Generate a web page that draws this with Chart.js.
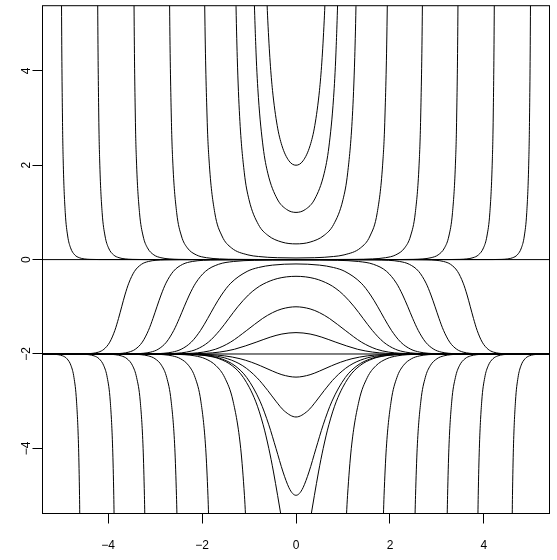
<!DOCTYPE html>
<html><head><meta charset="utf-8">
<script src="https://cdn.jsdelivr.net/npm/chart.js@4"></script>
<style>html,body{margin:0;padding:0;background:#fff;}canvas{display:block;}</style>
</head><body>
<canvas id="c" width="557" height="560" style="width:557px;height:560px"></canvas>
<script>
// axis limits and ticks
const xLimits = [-5.395, 5.395];
const yLimits = [-5.38, 5.38];
const xTicks = [-4, -2, 0, 2, 4];
const yTicks = [-4, -2, 0, 2, 4];
const equilibria = [0, -2];

// solution curves, right half (x >= 0); the figure is symmetric about x = 0
const upper1 = [[0,2],[0.15,2.093],[0.3,2.416],[0.4,2.84],[0.5,3.587],[0.55,4.185],[0.6,5.059],[0.62,5.529],[0.65,6.435]];
const upper2 = [[0,1],[0.2,1.063],[0.4,1.285],[0.6,1.83],[0.7,2.387],[0.8,3.437],[0.85,4.38],[0.9,5.978],[0.93,7.596]];
const upper3 = [[0,0.333],[0.3,0.371],[0.6,0.515],[0.8,0.743],[1.0,1.27],[1.1,1.839],[1.2,3.037],[1.25,4.28],[1.28,5.555],[1.3,6.858]];
const upper4 = [[0,0.034],[0.398,0.04],[0.6,0.049],[0.8,0.066],[1.023,0.1],[1.376,0.25],[1.575,0.5],[1.73,1],[1.843,2],[1.892,3],[1.943,5.4],[1.967,8]];
const upper5 = [[0,0.001],[1.248,0.005],[1.628,0.015],[1.903,0.04],[2.123,0.1],[2.314,0.25],[2.438,0.5],[2.54,1],[2.619,2],[2.653,3],[2.69,5.4],[2.707,8]];
const upper6 = [[0,0],[2.144,0.001],[2.491,0.005],[2.701,0.015],[2.875,0.04],[3.025,0.1],[3.162,0.25],[3.254,0.5],[3.331,1],[3.392,2],[3.419,3],[3.447,5.4],[3.46,8]];
const upper7 = [[0,0],[3.244,0.001],[3.483,0.005],[3.636,0.015],[3.767,0.04],[3.883,0.1],[3.991,0.25],[4.064,0.5],[4.126,1],[4.175,2],[4.197,3],[4.22,5.4],[4.231,8]];
const upper8 = [[0,0],[4.197,0.001],[4.384,0.005],[4.507,0.015],[4.613,0.04],[4.709,0.1],[4.798,0.25],[4.859,0.5],[4.911,1],[4.952,2],[4.97,3],[4.99,5.4],[4.999,8]];

const bell1 = [[0,0],[2.483,-0.001],[2.788,-0.005],[2.98,-0.015],[3.142,-0.04],[3.289,-0.1],[3.438,-0.25],[3.559,-0.5],[3.641,-0.75],[3.71,-1],[3.778,-1.25],[3.855,-1.5],[3.964,-1.75],[4.088,-1.9],[4.202,-1.96],[4.319,-1.985],[4.445,-1.995],[4.622,-1.999],[5.4,-2]];
const bell2 = [[0,-0.0003],[1.078,-0.001],[1.665,-0.005],[1.969,-0.015],[2.207,-0.04],[2.412,-0.1],[2.611,-0.25],[2.768,-0.5],[2.872,-0.75],[2.96,-1],[3.045,-1.25],[3.14,-1.5],[3.272,-1.75],[3.421,-1.9],[3.557,-1.96],[3.694,-1.985],[3.841,-1.995],[4.045,-1.999],[5.4,-2]];
const bell3 = [[0,-0.007],[0.5,-0.009],[0.883,-0.015],[1.331,-0.04],[1.649,-0.1],[1.928,-0.25],[2.137,-0.5],[2.27,-0.75],[2.38,-1],[2.485,-1.25],[2.601,-1.5],[2.759,-1.75],[2.934,-1.9],[3.091,-1.96],[3.248,-1.985],[3.414,-1.995],[3.642,-1.999],[5.4,-2]];
const bell4 = [[0,-0.092],[0.5,-0.117],[0.8,-0.168],[1.04,-0.25],[1.389,-0.5],[1.586,-0.75],[1.74,-1],[1.881,-1.25],[2.031,-1.5],[2.23,-1.75],[2.444,-1.9],[2.631,-1.96],[2.813,-1.985],[3.003,-1.995],[3.26,-1.999],[5.4,-2]];
const bell5 = [[0,-0.354],[0.4,-0.403],[0.7,-0.52],[0.85,-0.614],[1.013,-0.75],[1.24,-1],[1.431,-1.25],[1.624,-1.5],[1.866,-1.75],[2.117,-1.9],[2.33,-1.96],[2.534,-1.985],[2.743,-1.995],[3.023,-1.999],[5.4,-2]];
const bell6 = [[0,-1],[0.3,-1.045],[0.5,-1.124],[0.715,-1.25],[1.048,-1.5],[1.395,-1.75],[1.716,-1.9],[1.973,-1.96],[2.21,-1.985],[2.447,-1.995],[2.757,-1.999],[5.4,-2]];
const bell7 = [[0,-1.547],[0.3,-1.577],[0.55,-1.644],[0.848,-1.75],[1.311,-1.9],[1.632,-1.96],[1.913,-1.985],[2.182,-1.995],[2.525,-1.999],[5.4,-2]];

const lower1 = [[0,-2.49],[0.3,-2.439],[0.5,-2.362],[0.756,-2.25],[0.95,-2.174],[1.191,-2.1],[1.519,-2.04],[1.81,-2.015],[2.09,-2.005],[2.445,-2.001],[5.4,-2]];
const lower2 = [[0,-3.335],[0.25,-3.206],[0.428,-3],[0.6,-2.775],[0.833,-2.5],[1.132,-2.25],[1.459,-2.1],[1.737,-2.04],[1.996,-2.015],[2.254,-2.005],[2.586,-2.001],[5.4,-2]];
const lower3 = [[0,-4.994],[0.07,-4.958],[0.15,-4.833],[0.276,-4.5],[0.426,-4],[0.579,-3.5],[0.766,-3],[1.048,-2.5],[1.298,-2.25],[1.592,-2.1],[1.849,-2.04],[2.095,-2.015],[2.341,-2.005],[2.663,-2.001],[5.4,-2]];
const lower4 = [[0,-6.64],[0.1,-6.491],[0.217,-6],[0.323,-5.4],[0.391,-5],[0.479,-4.5],[0.579,-4],[0.699,-3.5],[0.86,-3],[1.119,-2.5],[1.356,-2.25],[1.639,-2.1],[1.89,-2.04],[2.131,-2.015],[2.374,-2.005],[2.691,-2.001],[5.4,-2]];

// branches that run off the bottom (right side; left side is the mirror image)
const arm1 = [[0.914,-15],[0.957,-10],[0.99,-8],[1.048,-6],[1.075,-5.4],[1.097,-5],[1.177,-4],[1.339,-3],[1.517,-2.5],[1.7,-2.25],[1.933,-2.1],[2.151,-2.04],[2.365,-2.015],[2.586,-2.005],[2.88,-2.001],[5.4,-2]];
const arm2 = [[1.773,-15],[1.813,-8],[1.846,-6],[1.861,-5.4],[1.874,-5],[1.922,-4],[2.025,-3],[2.147,-2.5],[2.28,-2.25],[2.459,-2.1],[2.633,-2.04],[2.811,-2.015],[2.999,-2.005],[3.256,-2.001],[5.4,-2]];
const arm3 = [[2.47,-15],[2.499,-8],[2.523,-6],[2.534,-5.4],[2.544,-5],[2.579,-4],[2.657,-3],[2.751,-2.5],[2.856,-2.25],[3.001,-2.1],[3.145,-2.04],[3.295,-2.015],[3.457,-2.005],[3.682,-2.001],[5.4,-2]];
const arm4 = [[3.168,-15],[3.191,-8],[3.209,-6],[3.218,-5.4],[3.226,-5],[3.254,-4],[3.315,-3],[3.392,-2.5],[3.477,-2.25],[3.597,-2.1],[3.718,-2.04],[3.846,-2.015],[3.986,-2.005],[4.183,-2.001],[5.4,-2]];
const arm5 = [[3.831,-15],[3.849,-8],[3.865,-6],[3.872,-5.4],[3.878,-5],[3.902,-4],[3.953,-3],[4.017,-2.5],[4.09,-2.25],[4.192,-2.1],[4.297,-2.04],[4.408,-2.015],[4.53,-2.005],[4.704,-2.001],[5.4,-2]];
const arm6 = [[4.567,-15],[4.583,-8],[4.596,-6],[4.602,-5.4],[4.607,-5],[4.627,-4],[4.671,-3],[4.725,-2.5],[4.787,-2.25],[4.875,-2.1],[4.965,-2.04],[5.061,-2.015],[5.168,-2.005],[5.321,-2.001],[5.4,-2]];

const symmetricCurves = [upper1,upper2,upper3,upper4,upper5,upper6,upper7,upper8,
  bell1,bell2,bell3,bell4,bell5,bell6,bell7,lower1,lower2,lower3,lower4];
const branchCurves = [arm1,arm2,arm3,arm4,arm5,arm6];

function joinMirror(half) {
  const left = half.filter(p => p[0] > 0).map(p => ({x: -p[0], y: p[1]})).reverse();
  return left.concat(half.map(p => ({x: p[0], y: p[1]})));
}
function mirrorOnly(half) { return half.map(p => ({x: -p[0], y: p[1]})).reverse(); }
function asPoints(half) { return half.map(p => ({x: p[0], y: p[1]})); }

const style = {showLine: true, borderColor: '#000', borderWidth: 1, pointRadius: 0, pointHoverRadius: 0,
  fill: false, cubicInterpolationMode: 'monotone', capBezierPoints: false, clip: 0};

const datasets = [];
equilibria.forEach(v => datasets.push(Object.assign({data: [{x: xLimits[0] - 1, y: v}, {x: xLimits[1] + 1, y: v}]}, style)));
symmetricCurves.forEach(c => datasets.push(Object.assign({data: joinMirror(c)}, style)));
branchCurves.forEach(c => {
  datasets.push(Object.assign({data: asPoints(c)}, style));
  datasets.push(Object.assign({data: mirrorOnly(c)}, style));
});

const fmt = v => (v < 0 ? '\u2212' + Math.abs(v) : String(v));
const font = {family: "'Liberation Sans', Arial, Helvetica, sans-serif", size: 12};

const boxPlugin = {
  id: 'box',
  afterDraw(chart) {
    const a = chart.chartArea, c = chart.ctx;
    c.save(); c.strokeStyle = '#000'; c.lineWidth = 1;
    c.strokeRect(a.left, a.top, a.right - a.left, a.bottom - a.top);
    c.restore();
  }
};

new Chart(document.getElementById('c'), {
  type: 'scatter',
  data: {datasets},
  options: {
    responsive: false, animation: false, devicePixelRatio: 1, events: [],
    layout: {padding: {left: 0, right: 7.5, top: 5.5, bottom: 0}},
    plugins: {legend: {display: false}, tooltip: {enabled: false}},
    scales: {
      x: {
        type: 'linear', min: xLimits[0], max: xLimits[1],
        afterBuildTicks: s => { s.ticks = xTicks.map(v => ({value: v})); },
        afterFit: s => { s.height = 46.5; },
        grid: {drawOnChartArea: false, drawTicks: true, tickLength: 10, color: '#000', lineWidth: 1},
        border: {display: false},
        ticks: {color: '#000', font, padding: 15, maxRotation: 0, minRotation: 0, autoSkip: false, callback: fmt}
      },
      y: {
        type: 'linear', min: yLimits[0], max: yLimits[1],
        afterBuildTicks: s => { s.ticks = yTicks.map(v => ({value: v})); },
        afterFit: s => { s.width = 42.5; },
        grid: {drawOnChartArea: false, drawTicks: true, tickLength: 10, color: '#000', lineWidth: 1},
        border: {display: false},
        ticks: {color: '#000', font, padding: -1.5, minRotation: 90, maxRotation: 90, crossAlign: 'center', autoSkip: false, callback: fmt}
      }
    }
  },
  plugins: [boxPlugin]
});
</script>
</body></html>
